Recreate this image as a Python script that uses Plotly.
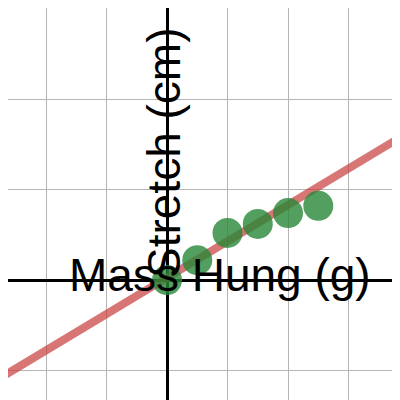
import plotly.graph_objects as go

# data in grid units (x grid = 1 unit, y grid = 1 unit)
mass = [0, 0.5, 1.0, 1.5, 2.0, 2.5]
stretch = [0.0, 0.22, 0.52, 0.62, 0.74, 0.82]
fit_x = [-3, 4.5]
fit_slope = 0.402
fit_intercept = 0.026
fit_y = [fit_slope * v + fit_intercept for v in fit_x]

fig = go.Figure()
fig.add_trace(go.Scatter(x=fit_x, y=fit_y, mode='lines',
                         line=dict(color='rgba(200,60,60,0.7)', width=8)))
fig.add_trace(go.Scatter(x=mass, y=stretch, mode='markers',
                         marker=dict(size=30, color='rgba(40,135,55,0.8)', line=dict(width=0))))

grid = dict(showgrid=True, gridcolor='#b5b5b5', gridwidth=1.3, dtick=1, tick0=0,
            zeroline=True, zerolinecolor='black', zerolinewidth=3,
            showticklabels=False, ticks='')
# page body has an 8px offset, ranges compensate for it
fig.update_layout(
    width=400, height=400, margin=dict(l=0, r=0, t=0, b=0),
    plot_bgcolor='white', paper_bgcolor='white', showlegend=False,
    xaxis=dict(range=[-2.628, 3.983], **grid),
    yaxis=dict(range=[-1.414, 3.006], **grid),
    font=dict(family='Liberation Sans, Arial', color='black'),
)
fig.add_annotation(text='Mass Hung (g)', x=(220 - 8) / 400, y=1 - (303 - 8) / 400, xref='paper', yref='paper',
                   showarrow=False, font=dict(size=46))
fig.add_annotation(text='Stretch (cm)', x=(136 - 8) / 400, y=1 - (153 - 8) / 400, xref='paper', yref='paper',
                   showarrow=False, textangle=-90, font=dict(size=46))
fig.write_html("out.html")
